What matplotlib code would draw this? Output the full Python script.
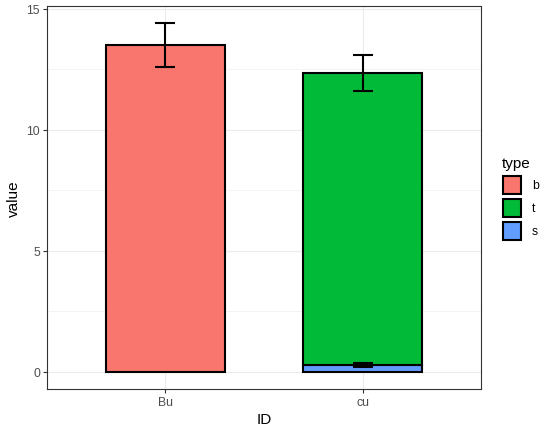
import matplotlib
matplotlib.use('Agg')
import matplotlib.pyplot as plt
from matplotlib.patches import Rectangle
import numpy as np

plt.rcParams['font.family'] = ['Liberation Sans', 'DejaVu Sans']

# data
ids = ['Bu', 'cu']
types = ['b', 't', 's']
colors = {'b': '#F8766D', 't': '#00BA38', 's': '#619CFF'}
# stacking order from bottom: s, t, b
b_vals = [13.5, 0.0]
t_vals = [0.0, 12.07]
s_vals = [0.0, 0.28]
b_err = [0.9, 0.0]
t_err = [0.0, 0.75]
s_err = [0.0, 0.08]

W, H = 554, 435
fig = plt.figure(figsize=(W / 100, H / 100), dpi=100)
ax = fig.add_axes([47/W, 1 - 390/H, (481 - 47)/W, (390 - 7)/H])

x = np.arange(1, len(ids) + 1)
width = 0.6
bottom = np.zeros(len(ids))
tops = {}
for name, vals in [('s', s_vals), ('t', t_vals), ('b', b_vals)]:
    vals = np.array(vals)
    mask = vals > 0
    ax.bar(x[mask], vals[mask], width, bottom=bottom[mask], color=colors[name],
           edgecolor='black', linewidth=1.5, zorder=2)
    bottom = bottom + vals
    tops[name] = bottom.copy()

for name, errs in [('s', s_err), ('t', t_err), ('b', b_err)]:
    errs = np.array(errs)
    mask = errs > 0
    ax.errorbar(x[mask], tops[name][mask], yerr=errs[mask], fmt='none',
                ecolor='black', elinewidth=1.5, capsize=7, capthick=1.5, zorder=3)

ax.set_xlim(0.4, 2.6)
ax.set_ylim(-0.72, 15.12)
ax.set_xticks(x)
ax.set_xticklabels(ids)
ax.set_yticks([0, 5, 10, 15])
ax.set_yticks([2.5, 7.5, 12.5], minor=True)
ax.grid(True, which='major', color='#EBEBEB', linewidth=0.8, zorder=0)
ax.grid(True, which='minor', axis='y', color='#EBEBEB', linewidth=0.4, zorder=0)
ax.set_axisbelow(True)
ax.tick_params(which='major', length=3, color='#333333', labelcolor='#4D4D4D', labelsize=8.8, pad=2)
ax.tick_params(which='minor', length=0)
for s in ax.spines.values():
    s.set_color('#333333')
    s.set_linewidth(0.8)

ax.set_xlabel('ID', fontsize=11, labelpad=3)
ax.set_ylabel('value', fontsize=11, labelpad=4)

# legend, drawn by hand to get ggplot-like key boxes
fig.text(502/W, 1 - 168/H, 'type', fontsize=11, ha='left', va='baseline')
key, pitch, top0 = 18, 23, 177
for i, t in enumerate(types):
    y0 = top0 + i * pitch
    fig.patches.append(Rectangle((503/W, 1 - (y0 + key)/H), key/W, key/H,
                                 transform=fig.transFigure, facecolor=colors[t],
                                 edgecolor='black', linewidth=1.5))
    fig.text(532/W, 1 - (y0 + key/2)/H, t, fontsize=8.8, ha='left', va='center')

fig.savefig('out.png', dpi=100)
